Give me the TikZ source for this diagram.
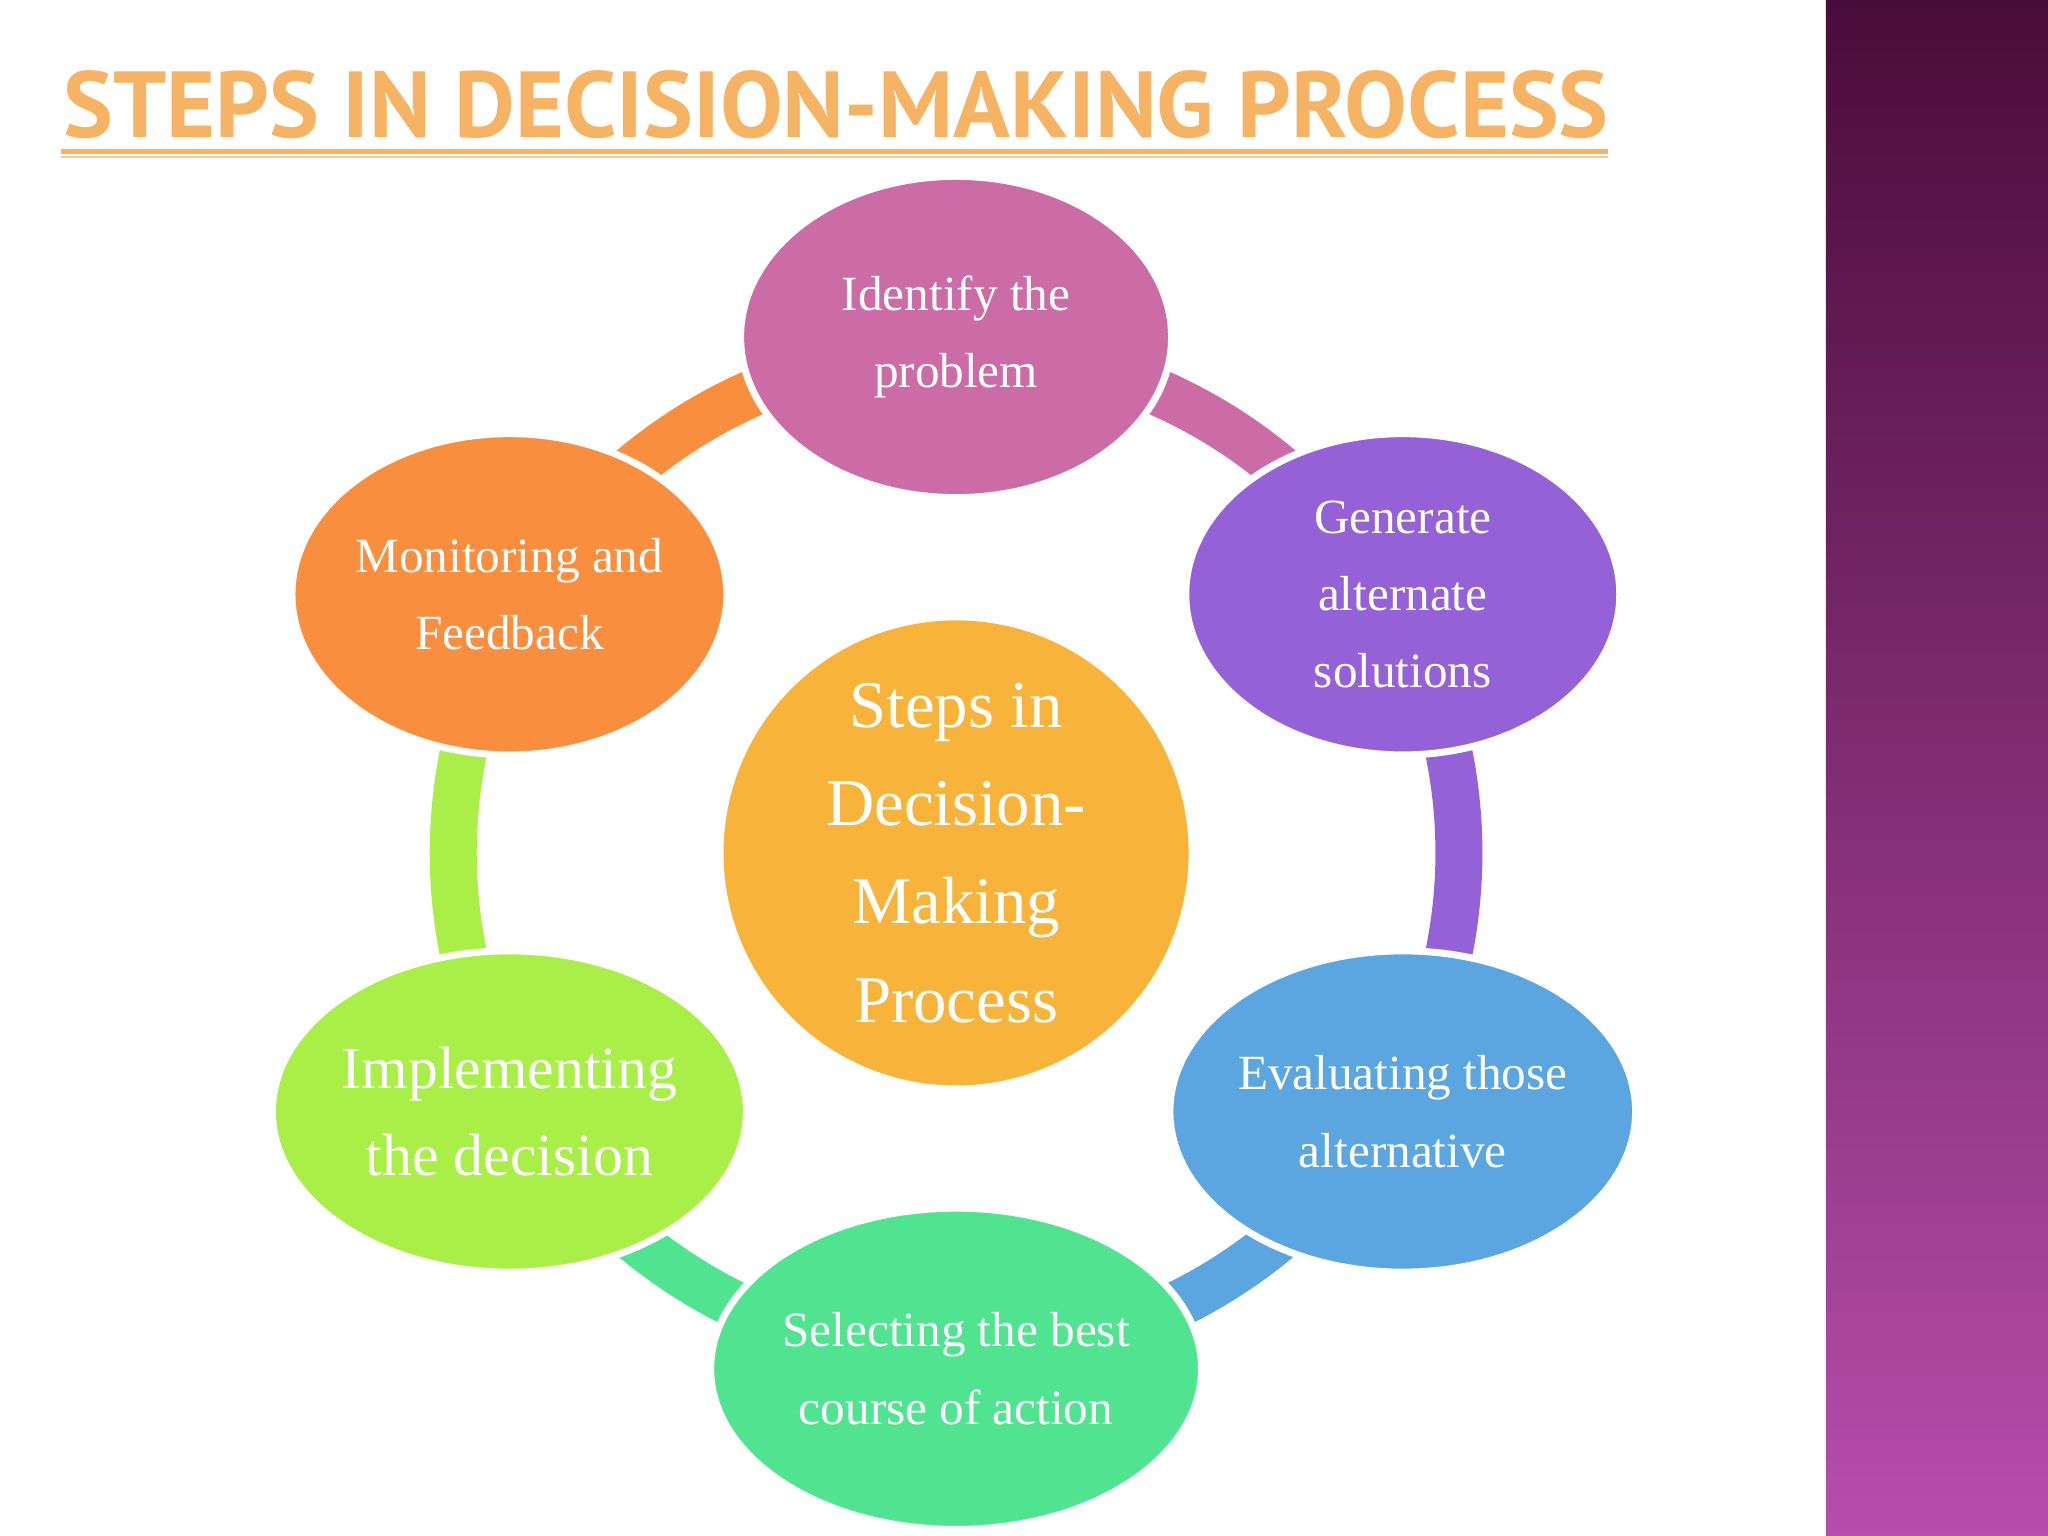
\documentclass[tikz,border=0pt]{standalone}
\usepackage{fontspec}
\usetikzlibrary{calc,shapes.geometric}
\setmainfont{Liberation Serif}
\newfontfamily\titlefont{PT Sans}
\definecolor{cTop}{HTML}{CC6CA6}
\definecolor{cUR}{HTML}{9461D6}
\definecolor{cLR}{HTML}{5BA6E0}
\definecolor{cBot}{HTML}{50E491}
\definecolor{cLL}{HTML}{AAEE48}
\definecolor{cUL}{HTML}{F98E3E}
\definecolor{cCen}{HTML}{F7B33A}
\definecolor{cTitle}{HTML}{F6B363}
\definecolor{sideTop}{HTML}{4A0C3A}
\definecolor{sideBot}{HTML}{B74DAC}
\begin{document}
\begin{tikzpicture}[x=0.013061cm,y=-0.013061cm,
  stepell/.style={ellipse,draw=white,line width=2pt,text=white,align=center,font=\fontsize{14}{22}\selectfont,inner sep=0pt,minimum height=3.213cm},
  ring/.style={line width=0.47cm}]
\useasboundingbox (0,0) rectangle (1568,1176);
\fill[white] (0,0) rectangle (1568,1176);
\shade[top color=sideTop,bottom color=sideBot] (1398,0) rectangle (1568,1176);
% title
\node[anchor=west,text=cTitle,inner sep=0pt] (title) at (48,80)
  {\resizebox{15.45cm}{!}{\titlefont\bfseries STEPS IN DECISION-MAKING PROCESS}};
\draw[cTitle,line width=1.2pt] (47,116) -- (1231,116);
\draw[cTitle!70,line width=0.6pt] (47,120) -- (1231,120);
% ring arcs
\coordinate (c) at (732,653);
\foreach \a/\b/\col in {-90/-30/cTop,-30/30/cUR,30/90/cLR,90/150/cBot,150/210/cLL,210/270/cUL}{
  \draw[ring,\col] ($(c)+(\a:385)$) arc[start angle=\a,end angle=\b,radius=385];
}
% nodes
\node[stepell,fill=cTop,minimum width=4.31cm] (n1) at (732,258) {Identify the\\problem};
\node[stepell,fill=cUR,minimum width=4.34cm] (n2) at (1074,455) {Generate\\alternate\\solutions};
\node[stepell,fill=cLR,minimum width=4.52cm] (n3) at (1074,851) {Evaluating those\\alternative};
\node[stepell,fill=cBot,minimum width=4.70cm] (n4) at (732,1048) {Selecting the best\\course of action};
\node[stepell,fill=cLL,minimum width=4.52cm,font=\fontsize{17}{25}\selectfont] (n5) at (390,851) {Implementing\\the decision};
\node[stepell,fill=cUL,minimum width=4.26cm] (n6) at (390,455) {Monitoring and\\Feedback};
\node[circle,fill=cCen,text=white,align=center,minimum size=4.65cm,inner sep=0pt,font=\fontsize{19}{28}\selectfont] (cen) at (732,653) {Steps in\\Decision-\\Making\\Process};
\end{tikzpicture}
\end{document}
